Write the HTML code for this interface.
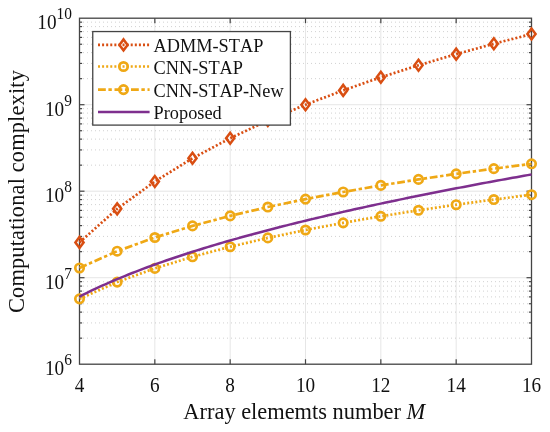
<!DOCTYPE html><html><head><meta charset="utf-8"><title>Computational complexity</title>
<style>html,body{margin:0;padding:0;background:#fff}svg{display:block}text{font-family:"Liberation Serif","Times New Roman",serif;fill:#111;font-kerning:none}</style></head><body>
<svg width="550" height="432" viewBox="0 0 550 432">
<rect width="550" height="432" fill="#fff"/>
<g stroke="#262626" stroke-opacity="0.115" stroke-width="1" fill="none">
<line x1="154.83" y1="18.2" x2="154.83" y2="364.2"/>
<line x1="230.17" y1="18.2" x2="230.17" y2="364.2"/>
<line x1="305.50" y1="18.2" x2="305.50" y2="364.2"/>
<line x1="380.83" y1="18.2" x2="380.83" y2="364.2"/>
<line x1="456.17" y1="18.2" x2="456.17" y2="364.2"/>
<line x1="79.5" y1="277.70" x2="531.5" y2="277.70"/>
<line x1="79.5" y1="191.20" x2="531.5" y2="191.20"/>
<line x1="79.5" y1="104.70" x2="531.5" y2="104.70"/>
</g>
<g stroke="#262626" stroke-opacity="0.21" stroke-width="1" stroke-dasharray="1 3" fill="none">
<line x1="83" y1="338.16" x2="531.5" y2="338.16"/>
<line x1="83" y1="322.93" x2="531.5" y2="322.93"/>
<line x1="83" y1="312.12" x2="531.5" y2="312.12"/>
<line x1="83" y1="303.74" x2="531.5" y2="303.74"/>
<line x1="83" y1="296.89" x2="531.5" y2="296.89"/>
<line x1="83" y1="291.10" x2="531.5" y2="291.10"/>
<line x1="83" y1="286.08" x2="531.5" y2="286.08"/>
<line x1="83" y1="281.66" x2="531.5" y2="281.66"/>
<line x1="83" y1="251.66" x2="531.5" y2="251.66"/>
<line x1="83" y1="236.43" x2="531.5" y2="236.43"/>
<line x1="83" y1="225.62" x2="531.5" y2="225.62"/>
<line x1="83" y1="217.24" x2="531.5" y2="217.24"/>
<line x1="83" y1="210.39" x2="531.5" y2="210.39"/>
<line x1="83" y1="204.60" x2="531.5" y2="204.60"/>
<line x1="83" y1="199.58" x2="531.5" y2="199.58"/>
<line x1="83" y1="195.16" x2="531.5" y2="195.16"/>
<line x1="83" y1="165.16" x2="531.5" y2="165.16"/>
<line x1="83" y1="149.93" x2="531.5" y2="149.93"/>
<line x1="83" y1="139.12" x2="531.5" y2="139.12"/>
<line x1="83" y1="130.74" x2="531.5" y2="130.74"/>
<line x1="83" y1="123.89" x2="531.5" y2="123.89"/>
<line x1="83" y1="118.10" x2="531.5" y2="118.10"/>
<line x1="83" y1="113.08" x2="531.5" y2="113.08"/>
<line x1="83" y1="108.66" x2="531.5" y2="108.66"/>
<line x1="83" y1="78.66" x2="531.5" y2="78.66"/>
<line x1="83" y1="63.43" x2="531.5" y2="63.43"/>
<line x1="83" y1="52.62" x2="531.5" y2="52.62"/>
<line x1="83" y1="44.24" x2="531.5" y2="44.24"/>
<line x1="83" y1="37.39" x2="531.5" y2="37.39"/>
<line x1="83" y1="31.60" x2="531.5" y2="31.60"/>
<line x1="83" y1="26.58" x2="531.5" y2="26.58"/>
<line x1="83" y1="22.16" x2="531.5" y2="22.16"/>
</g>
<g stroke="#444" stroke-width="1.2" fill="none">
<line x1="154.83" y1="364.2" x2="154.83" y2="359.2"/>
<line x1="154.83" y1="18.2" x2="154.83" y2="23.2"/>
<line x1="230.17" y1="364.2" x2="230.17" y2="359.2"/>
<line x1="230.17" y1="18.2" x2="230.17" y2="23.2"/>
<line x1="305.50" y1="364.2" x2="305.50" y2="359.2"/>
<line x1="305.50" y1="18.2" x2="305.50" y2="23.2"/>
<line x1="380.83" y1="364.2" x2="380.83" y2="359.2"/>
<line x1="380.83" y1="18.2" x2="380.83" y2="23.2"/>
<line x1="456.17" y1="364.2" x2="456.17" y2="359.2"/>
<line x1="456.17" y1="18.2" x2="456.17" y2="23.2"/>
<line x1="79.5" y1="338.16" x2="82.1" y2="338.16"/>
<line x1="531.5" y1="338.16" x2="528.9" y2="338.16"/>
<line x1="79.5" y1="322.93" x2="82.1" y2="322.93"/>
<line x1="531.5" y1="322.93" x2="528.9" y2="322.93"/>
<line x1="79.5" y1="312.12" x2="82.1" y2="312.12"/>
<line x1="531.5" y1="312.12" x2="528.9" y2="312.12"/>
<line x1="79.5" y1="303.74" x2="82.1" y2="303.74"/>
<line x1="531.5" y1="303.74" x2="528.9" y2="303.74"/>
<line x1="79.5" y1="296.89" x2="82.1" y2="296.89"/>
<line x1="531.5" y1="296.89" x2="528.9" y2="296.89"/>
<line x1="79.5" y1="291.10" x2="82.1" y2="291.10"/>
<line x1="531.5" y1="291.10" x2="528.9" y2="291.10"/>
<line x1="79.5" y1="286.08" x2="82.1" y2="286.08"/>
<line x1="531.5" y1="286.08" x2="528.9" y2="286.08"/>
<line x1="79.5" y1="281.66" x2="82.1" y2="281.66"/>
<line x1="531.5" y1="281.66" x2="528.9" y2="281.66"/>
<line x1="79.5" y1="277.70" x2="84.5" y2="277.70"/>
<line x1="531.5" y1="277.70" x2="526.5" y2="277.70"/>
<line x1="79.5" y1="251.66" x2="82.1" y2="251.66"/>
<line x1="531.5" y1="251.66" x2="528.9" y2="251.66"/>
<line x1="79.5" y1="236.43" x2="82.1" y2="236.43"/>
<line x1="531.5" y1="236.43" x2="528.9" y2="236.43"/>
<line x1="79.5" y1="225.62" x2="82.1" y2="225.62"/>
<line x1="531.5" y1="225.62" x2="528.9" y2="225.62"/>
<line x1="79.5" y1="217.24" x2="82.1" y2="217.24"/>
<line x1="531.5" y1="217.24" x2="528.9" y2="217.24"/>
<line x1="79.5" y1="210.39" x2="82.1" y2="210.39"/>
<line x1="531.5" y1="210.39" x2="528.9" y2="210.39"/>
<line x1="79.5" y1="204.60" x2="82.1" y2="204.60"/>
<line x1="531.5" y1="204.60" x2="528.9" y2="204.60"/>
<line x1="79.5" y1="199.58" x2="82.1" y2="199.58"/>
<line x1="531.5" y1="199.58" x2="528.9" y2="199.58"/>
<line x1="79.5" y1="195.16" x2="82.1" y2="195.16"/>
<line x1="531.5" y1="195.16" x2="528.9" y2="195.16"/>
<line x1="79.5" y1="191.20" x2="84.5" y2="191.20"/>
<line x1="531.5" y1="191.20" x2="526.5" y2="191.20"/>
<line x1="79.5" y1="165.16" x2="82.1" y2="165.16"/>
<line x1="531.5" y1="165.16" x2="528.9" y2="165.16"/>
<line x1="79.5" y1="149.93" x2="82.1" y2="149.93"/>
<line x1="531.5" y1="149.93" x2="528.9" y2="149.93"/>
<line x1="79.5" y1="139.12" x2="82.1" y2="139.12"/>
<line x1="531.5" y1="139.12" x2="528.9" y2="139.12"/>
<line x1="79.5" y1="130.74" x2="82.1" y2="130.74"/>
<line x1="531.5" y1="130.74" x2="528.9" y2="130.74"/>
<line x1="79.5" y1="123.89" x2="82.1" y2="123.89"/>
<line x1="531.5" y1="123.89" x2="528.9" y2="123.89"/>
<line x1="79.5" y1="118.10" x2="82.1" y2="118.10"/>
<line x1="531.5" y1="118.10" x2="528.9" y2="118.10"/>
<line x1="79.5" y1="113.08" x2="82.1" y2="113.08"/>
<line x1="531.5" y1="113.08" x2="528.9" y2="113.08"/>
<line x1="79.5" y1="108.66" x2="82.1" y2="108.66"/>
<line x1="531.5" y1="108.66" x2="528.9" y2="108.66"/>
<line x1="79.5" y1="104.70" x2="84.5" y2="104.70"/>
<line x1="531.5" y1="104.70" x2="526.5" y2="104.70"/>
<line x1="79.5" y1="78.66" x2="82.1" y2="78.66"/>
<line x1="531.5" y1="78.66" x2="528.9" y2="78.66"/>
<line x1="79.5" y1="63.43" x2="82.1" y2="63.43"/>
<line x1="531.5" y1="63.43" x2="528.9" y2="63.43"/>
<line x1="79.5" y1="52.62" x2="82.1" y2="52.62"/>
<line x1="531.5" y1="52.62" x2="528.9" y2="52.62"/>
<line x1="79.5" y1="44.24" x2="82.1" y2="44.24"/>
<line x1="531.5" y1="44.24" x2="528.9" y2="44.24"/>
<line x1="79.5" y1="37.39" x2="82.1" y2="37.39"/>
<line x1="531.5" y1="37.39" x2="528.9" y2="37.39"/>
<line x1="79.5" y1="31.60" x2="82.1" y2="31.60"/>
<line x1="531.5" y1="31.60" x2="528.9" y2="31.60"/>
<line x1="79.5" y1="26.58" x2="82.1" y2="26.58"/>
<line x1="531.5" y1="26.58" x2="528.9" y2="26.58"/>
<line x1="79.5" y1="22.16" x2="82.1" y2="22.16"/>
<line x1="531.5" y1="22.16" x2="528.9" y2="22.16"/>
</g>
<rect x="79.5" y="18.2" width="452.0" height="346.0" fill="none" stroke="#444" stroke-width="1.3"/>
<polyline points="79.50,242.39 117.17,208.86 154.83,181.46 192.50,158.30 230.17,138.23 267.83,120.53 305.50,104.70 343.17,90.38 380.83,77.30 418.50,65.28 456.17,54.14 493.83,43.77 531.50,34.07" fill="none" stroke="#D94E12" stroke-width="2.7" stroke-dasharray="2 2.09"/>
<path d="M75.40 242.39L79.50 236.94L83.60 242.39L79.50 247.84Z" fill="none" stroke="#D94E12" stroke-width="2.5" stroke-linejoin="miter"/>
<path d="M113.07 208.86L117.17 203.41L121.27 208.86L117.17 214.31Z" fill="none" stroke="#D94E12" stroke-width="2.5" stroke-linejoin="miter"/>
<path d="M150.73 181.46L154.83 176.01L158.93 181.46L154.83 186.91Z" fill="none" stroke="#D94E12" stroke-width="2.5" stroke-linejoin="miter"/>
<path d="M188.40 158.30L192.50 152.85L196.60 158.30L192.50 163.75Z" fill="none" stroke="#D94E12" stroke-width="2.5" stroke-linejoin="miter"/>
<path d="M226.07 138.23L230.17 132.78L234.27 138.23L230.17 143.68Z" fill="none" stroke="#D94E12" stroke-width="2.5" stroke-linejoin="miter"/>
<path d="M263.73 120.53L267.83 115.08L271.93 120.53L267.83 125.98Z" fill="none" stroke="#D94E12" stroke-width="2.5" stroke-linejoin="miter"/>
<path d="M301.40 104.70L305.50 99.25L309.60 104.70L305.50 110.15Z" fill="none" stroke="#D94E12" stroke-width="2.5" stroke-linejoin="miter"/>
<path d="M339.07 90.38L343.17 84.93L347.27 90.38L343.17 95.83Z" fill="none" stroke="#D94E12" stroke-width="2.5" stroke-linejoin="miter"/>
<path d="M376.73 77.30L380.83 71.85L384.93 77.30L380.83 82.75Z" fill="none" stroke="#D94E12" stroke-width="2.5" stroke-linejoin="miter"/>
<path d="M414.40 65.28L418.50 59.83L422.60 65.28L418.50 70.73Z" fill="none" stroke="#D94E12" stroke-width="2.5" stroke-linejoin="miter"/>
<path d="M452.07 54.14L456.17 48.69L460.27 54.14L456.17 59.59Z" fill="none" stroke="#D94E12" stroke-width="2.5" stroke-linejoin="miter"/>
<path d="M489.73 43.77L493.83 38.32L497.93 43.77L493.83 49.22Z" fill="none" stroke="#D94E12" stroke-width="2.5" stroke-linejoin="miter"/>
<path d="M527.40 34.07L531.50 28.62L535.60 34.07L531.50 39.52Z" fill="none" stroke="#D94E12" stroke-width="2.5" stroke-linejoin="miter"/>
<polyline points="79.50,298.84 117.17,282.08 154.83,268.38 192.50,256.80 230.17,246.77 267.83,237.92 305.50,230.00 343.17,222.84 380.83,216.30 418.50,210.29 456.17,204.72 493.83,199.54 531.50,194.69" fill="none" stroke="#EFA815" stroke-width="2.7" stroke-dasharray="2 2.09"/>
<circle cx="79.50" cy="298.84" r="4.2" fill="none" stroke="#EFA815" stroke-width="2.7"/>
<circle cx="117.17" cy="282.08" r="4.2" fill="none" stroke="#EFA815" stroke-width="2.7"/>
<circle cx="154.83" cy="268.38" r="4.2" fill="none" stroke="#EFA815" stroke-width="2.7"/>
<circle cx="192.50" cy="256.80" r="4.2" fill="none" stroke="#EFA815" stroke-width="2.7"/>
<circle cx="230.17" cy="246.77" r="4.2" fill="none" stroke="#EFA815" stroke-width="2.7"/>
<circle cx="267.83" cy="237.92" r="4.2" fill="none" stroke="#EFA815" stroke-width="2.7"/>
<circle cx="305.50" cy="230.00" r="4.2" fill="none" stroke="#EFA815" stroke-width="2.7"/>
<circle cx="343.17" cy="222.84" r="4.2" fill="none" stroke="#EFA815" stroke-width="2.7"/>
<circle cx="380.83" cy="216.30" r="4.2" fill="none" stroke="#EFA815" stroke-width="2.7"/>
<circle cx="418.50" cy="210.29" r="4.2" fill="none" stroke="#EFA815" stroke-width="2.7"/>
<circle cx="456.17" cy="204.72" r="4.2" fill="none" stroke="#EFA815" stroke-width="2.7"/>
<circle cx="493.83" cy="199.54" r="4.2" fill="none" stroke="#EFA815" stroke-width="2.7"/>
<circle cx="531.50" cy="194.69" r="4.2" fill="none" stroke="#EFA815" stroke-width="2.7"/>
<polyline points="79.50,267.96 117.17,251.19 154.83,237.50 192.50,225.91 230.17,215.88 267.83,207.03 305.50,199.12 343.17,191.96 380.83,185.42 418.50,179.40 456.17,173.84 493.83,168.65 531.50,163.80" fill="none" stroke="#EFA815" stroke-width="2.7" stroke-dasharray="7.8 2.6 3.4 2.7"/>
<circle cx="79.50" cy="267.96" r="4.2" fill="none" stroke="#EFA815" stroke-width="2.7"/>
<circle cx="117.17" cy="251.19" r="4.2" fill="none" stroke="#EFA815" stroke-width="2.7"/>
<circle cx="154.83" cy="237.50" r="4.2" fill="none" stroke="#EFA815" stroke-width="2.7"/>
<circle cx="192.50" cy="225.91" r="4.2" fill="none" stroke="#EFA815" stroke-width="2.7"/>
<circle cx="230.17" cy="215.88" r="4.2" fill="none" stroke="#EFA815" stroke-width="2.7"/>
<circle cx="267.83" cy="207.03" r="4.2" fill="none" stroke="#EFA815" stroke-width="2.7"/>
<circle cx="305.50" cy="199.12" r="4.2" fill="none" stroke="#EFA815" stroke-width="2.7"/>
<circle cx="343.17" cy="191.96" r="4.2" fill="none" stroke="#EFA815" stroke-width="2.7"/>
<circle cx="380.83" cy="185.42" r="4.2" fill="none" stroke="#EFA815" stroke-width="2.7"/>
<circle cx="418.50" cy="179.40" r="4.2" fill="none" stroke="#EFA815" stroke-width="2.7"/>
<circle cx="456.17" cy="173.84" r="4.2" fill="none" stroke="#EFA815" stroke-width="2.7"/>
<circle cx="493.83" cy="168.65" r="4.2" fill="none" stroke="#EFA815" stroke-width="2.7"/>
<circle cx="531.50" cy="163.80" r="4.2" fill="none" stroke="#EFA815" stroke-width="2.7"/>
<polyline points="79.50,296.58 83.27,294.68 87.03,292.81 90.80,290.99 94.57,289.20 98.33,287.45 102.10,285.73 105.87,284.04 109.63,282.38 113.40,280.76 117.17,279.16 120.93,277.59 124.70,276.05 128.47,274.53 132.23,273.03 136.00,271.56 139.77,270.11 143.53,268.69 147.30,267.28 151.07,265.90 154.83,264.53 158.60,263.18 162.37,261.85 166.13,260.54 169.90,259.25 173.67,257.97 177.43,256.71 181.20,255.46 184.97,254.23 188.73,253.01 192.50,251.81 196.27,250.62 200.03,249.44 203.80,248.28 207.57,247.13 211.33,245.99 215.10,244.87 218.87,243.75 222.63,242.65 226.40,241.55 230.17,240.47 233.93,239.40 237.70,238.34 241.47,237.29 245.23,236.24 249.00,235.21 252.77,234.19 256.53,233.17 260.30,232.17 264.07,231.17 267.83,230.18 271.60,229.20 275.37,228.22 279.13,227.26 282.90,226.30 286.67,225.35 290.43,224.40 294.20,223.47 297.97,222.54 301.73,221.62 305.50,220.70 309.27,219.79 313.03,218.89 316.80,217.99 320.57,217.10 324.33,216.21 328.10,215.34 331.87,214.46 335.63,213.60 339.40,212.73 343.17,211.88 346.93,211.03 350.70,210.18 354.47,209.34 358.23,208.51 362.00,207.68 365.77,206.85 369.53,206.03 373.30,205.21 377.07,204.40 380.83,203.60 384.60,202.80 388.37,202.00 392.13,201.20 395.90,200.42 399.67,199.63 403.43,198.85 407.20,198.08 410.97,197.30 414.73,196.54 418.50,195.77 422.27,195.01 426.03,194.26 429.80,193.50 433.57,192.76 437.33,192.01 441.10,191.27 444.87,190.53 448.63,189.80 452.40,189.07 456.17,188.34 459.93,187.62 463.70,186.90 467.47,186.18 471.23,185.47 475.00,184.76 478.77,184.05 482.53,183.35 486.30,182.64 490.07,181.95 493.83,181.25 497.60,180.56 501.37,179.87 505.13,179.19 508.90,178.50 512.67,177.82 516.43,177.15 520.20,176.47 523.97,175.80 527.73,175.13 531.50,174.47" fill="none" stroke="#7E2F8E" stroke-width="2.5"/>
<rect x="92.75" y="31.55" width="197.64999999999998" height="93.55" fill="#fff" stroke="#444" stroke-width="1.3"/>
<line x1="98" y1="44.9" x2="149.6" y2="44.9" stroke="#D94E12" stroke-width="2.7" stroke-dasharray="2 2.09"/>
<path d="M119.40 44.90L123.50 39.45L127.60 44.90L123.50 50.35Z" fill="none" stroke="#D94E12" stroke-width="2.5" stroke-linejoin="miter"/>
<line x1="98" y1="66.5" x2="149.6" y2="66.5" stroke="#EFA815" stroke-width="2.7" stroke-dasharray="2 2.09"/>
<circle cx="123.50" cy="66.50" r="4.2" fill="none" stroke="#EFA815" stroke-width="2.7"/>
<line x1="98" y1="89.6" x2="149.6" y2="89.6" stroke="#EFA815" stroke-width="2.7" stroke-dasharray="7.8 2.6 3.4 2.7"/>
<circle cx="123.50" cy="89.60" r="4.2" fill="none" stroke="#EFA815" stroke-width="2.7"/>
<line x1="98" y1="112.0" x2="149.6" y2="112.0" stroke="#7E2F8E" stroke-width="2.5"/>
<text x="153.6" y="51.9" font-size="18.3">ADMM-STAP</text>
<text x="153.6" y="73.5" font-size="18.3">CNN-STAP</text>
<text x="153.6" y="96.6" font-size="18.3">CNN-STAP-New</text>
<text x="153.6" y="119.0" font-size="18.3">Proposed</text>
<text transform="translate(79.50 391.9) scale(0.945 1)" font-size="20.35" text-anchor="middle">4</text>
<text transform="translate(154.83 391.9) scale(0.945 1)" font-size="20.35" text-anchor="middle">6</text>
<text transform="translate(230.17 391.9) scale(0.945 1)" font-size="20.35" text-anchor="middle">8</text>
<text transform="translate(305.50 391.9) scale(0.945 1)" font-size="20.35" text-anchor="middle">10</text>
<text transform="translate(380.83 391.9) scale(0.945 1)" font-size="20.35" text-anchor="middle">12</text>
<text transform="translate(456.17 391.9) scale(0.945 1)" font-size="20.35" text-anchor="middle">14</text>
<text transform="translate(531.50 391.9) scale(0.945 1)" font-size="20.35" text-anchor="middle">16</text>
<text transform="translate(71.9 375.00) scale(0.945 1)" font-size="20.35" text-anchor="end">10<tspan font-size="16.3" dy="-10">6</tspan></text>
<text transform="translate(71.9 288.50) scale(0.945 1)" font-size="20.35" text-anchor="end">10<tspan font-size="16.3" dy="-10">7</tspan></text>
<text transform="translate(71.9 202.00) scale(0.945 1)" font-size="20.35" text-anchor="end">10<tspan font-size="16.3" dy="-10">8</tspan></text>
<text transform="translate(71.9 115.50) scale(0.945 1)" font-size="20.35" text-anchor="end">10<tspan font-size="16.3" dy="-10">9</tspan></text>
<text transform="translate(71.9 29.00) scale(0.945 1)" font-size="20.35" text-anchor="end">10<tspan font-size="16.3" dy="-10">10</tspan></text>
<text x="304.3" y="418.6" font-size="22.4" text-anchor="middle">Array elememts number <tspan font-style="italic">M</tspan></text>
<text transform="translate(24.2 191.5) rotate(-90)" font-size="22.4" letter-spacing="0.15" text-anchor="middle">Computational complexity</text>
</svg></body></html>
